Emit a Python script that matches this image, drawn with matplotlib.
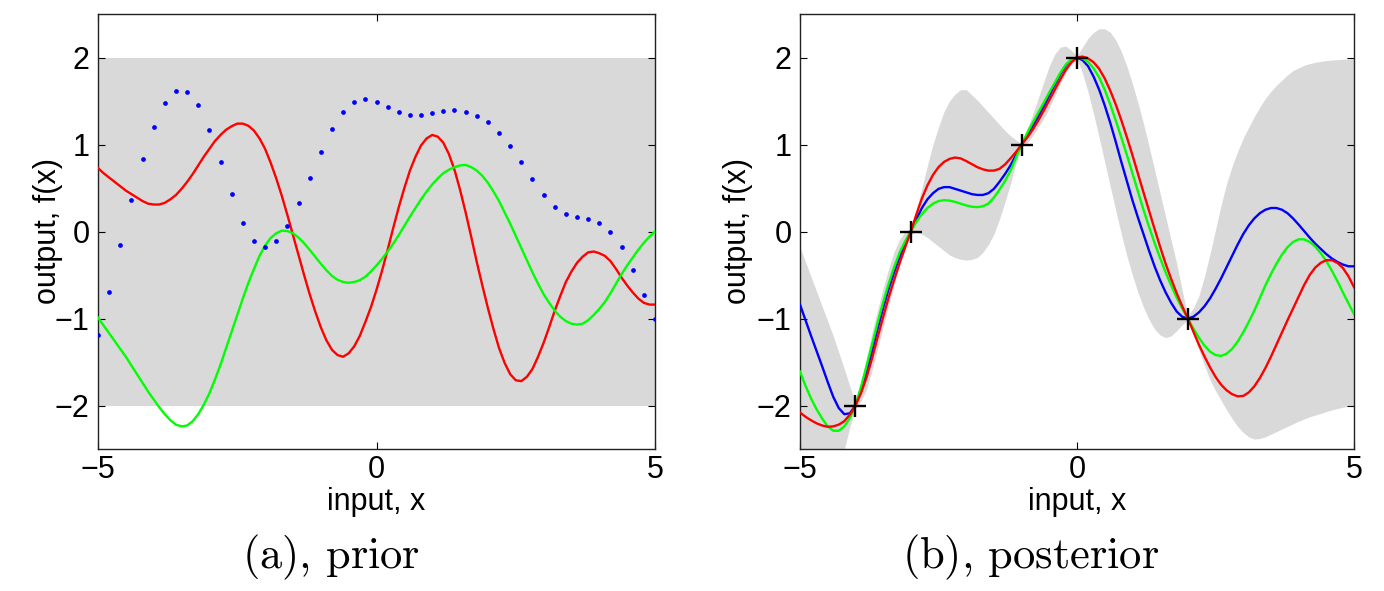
import numpy as np
import matplotlib
matplotlib.use("Agg")
import matplotlib.pyplot as plt

plt.rcParams['font.family'] = ['Liberation Sans', 'DejaVu Sans']
plt.rcParams['mathtext.fontset'] = 'cm'

# ---------------- (a) prior ----------------
x_line = np.round(np.arange(-5.0, 5.0001, 0.1), 1)   # sample grid of the curves
x_dots = np.round(np.arange(-5.0, 5.0001, 0.2), 1)   # grid of the dotted sample

prior_band_x = [-5.0, 5.0]
prior_band_upper = [2.0, 2.0]
prior_band_lower = [-2.0, -2.0]

prior_red = [0.73, 0.67, 0.62, 0.57, 0.52, 0.47, 0.43, 0.39, 0.35, 0.32,
             0.31, 0.31, 0.33, 0.37, 0.42, 0.49, 0.57, 0.66, 0.76, 0.86,
             0.95, 1.04, 1.11, 1.17, 1.21, 1.24, 1.24, 1.215, 1.16, 1.07,
             0.95, 0.79, 0.61, 0.41, 0.19, -0.04, -0.27, -0.50, -0.72, -0.92,
             -1.10, -1.25, -1.36, -1.42, -1.44, -1.40, -1.32, -1.20, -1.04, -0.87,
             -0.67, -0.45, -0.21, 0.04, 0.28, 0.50, 0.70, 0.86, 0.99, 1.07,
             1.11, 1.09, 1.02, 0.89, 0.71, 0.48, 0.22, -0.06, -0.35, -0.62,
             -0.88, -1.12, -1.34, -1.51, -1.64, -1.71, -1.72, -1.67, -1.58, -1.44,
             -1.28, -1.10, -0.91, -0.74, -0.58, -0.46, -0.36, -0.29, -0.24, -0.23,
             -0.25, -0.28, -0.34, -0.43, -0.53, -0.62, -0.70, -0.77, -0.82, -0.84,
             -0.84]

prior_green = [-0.99, -1.08, -1.17, -1.26, -1.35, -1.44, -1.54, -1.64, -1.74, -1.84,
               -1.93, -2.02, -2.10, -2.17, -2.22, -2.24, -2.23, -2.18, -2.10, -1.99,
               -1.86, -1.70, -1.53, -1.34, -1.15, -0.96, -0.77, -0.59, -0.43, -0.28,
               -0.16, -0.075, -0.02, 0.01, 0.005, -0.02, -0.07, -0.135, -0.21, -0.29,
               -0.37, -0.445, -0.51, -0.555, -0.58, -0.59, -0.58, -0.56, -0.52, -0.46,
               -0.39, -0.315, -0.23, -0.14, -0.04, 0.065, 0.17, 0.27, 0.37, 0.46,
               0.54, 0.61, 0.67, 0.71, 0.74, 0.76, 0.765, 0.74, 0.70, 0.64,
               0.56, 0.46, 0.35, 0.22, 0.09, -0.05, -0.19, -0.33, -0.47, -0.60,
               -0.72, -0.82, -0.91, -0.98, -1.03, -1.06, -1.07, -1.06, -1.02, -0.96,
               -0.89, -0.81, -0.71, -0.60, -0.49, -0.39, -0.30, -0.21, -0.13, -0.06,
               0.00]

prior_blue_dots = [-1.19, -0.70, -0.16, 0.365, 0.83, 1.205, 1.475, 1.61, 1.605, 1.45,
                   1.167, 0.80, 0.426, 0.10, -0.106, -0.179, -0.106, 0.068, 0.33, 0.62,
                   0.916, 1.18, 1.376, 1.494, 1.52, 1.49, 1.426, 1.369, 1.342, 1.342,
                   1.365, 1.39, 1.40, 1.376, 1.33, 1.255, 1.137, 0.985, 0.80, 0.605,
                   0.42, 0.285, 0.198, 0.163, 0.141, 0.103, 0.0, -0.18, -0.44, -0.73,
                   -1.01]

# ---------------- (b) posterior ----------------
train_x = [-4, -3, -1, 0, 2]
train_y = [-2, 0, 1, 2, -1]

post_band_upper = [-0.18, -0.35, -0.52, -0.69, -0.86, -1.03, -1.20, -1.39, -1.58, -1.78,
                   -1.97, -1.72, -1.45, -1.16, -0.90, -0.65, -0.43, -0.23, -0.09, 0.00,
                   0.03, 0.25, 0.50, 0.76, 1.00, 1.20, 1.38, 1.50, 1.58, 1.63,
                   1.63, 1.57, 1.51, 1.44, 1.37, 1.30, 1.23, 1.16, 1.10, 1.05,
                   1.01, 1.18, 1.35, 1.53, 1.72, 1.90, 2.04, 2.12, 2.13, 2.08,
                   2.02, 2.12, 2.22, 2.29, 2.33, 2.33, 2.29, 2.20, 2.07, 1.90,
                   1.70, 1.48, 1.24, 0.98, 0.71, 0.44, 0.17, -0.10, -0.37, -0.68,
                   -0.97, -0.88, -0.74, -0.52, -0.26, 0.02, 0.30, 0.55, 0.75, 0.92,
                   1.07, 1.20, 1.32, 1.43, 1.53, 1.61, 1.68, 1.74, 1.80, 1.85,
                   1.88, 1.91, 1.93, 1.945, 1.955, 1.965, 1.97, 1.975, 1.98, 1.983,
                   1.985]

post_band_lower = [-3.80, -3.70, -3.60, -3.50, -3.35, -3.20, -3.00, -2.75, -2.50, -2.25,
                   -2.03, -1.95, -1.82, -1.60, -1.35, -1.10, -0.85, -0.60, -0.38, -0.18,
                   -0.03, -0.01, -0.03, -0.07, -0.12, -0.17, -0.22, -0.27, -0.30, -0.32,
                   -0.33, -0.32, -0.30, -0.24, -0.15, -0.03, 0.14, 0.34, 0.55, 0.78,
                   0.98, 1.02, 1.10, 1.20, 1.30, 1.42, 1.56, 1.70, 1.83, 1.93,
                   1.98, 1.82, 1.60, 1.35, 1.08, 0.80, 0.52, 0.24, -0.03, -0.28,
                   -0.50, -0.70, -0.87, -1.01, -1.12, -1.19, -1.22, -1.20, -1.14, -1.07,
                   -1.02, -1.18, -1.36, -1.54, -1.70, -1.83, -1.94, -2.05, -2.15, -2.24,
                   -2.31, -2.36, -2.385, -2.38, -2.36, -2.33, -2.30, -2.27, -2.24, -2.21,
                   -2.18, -2.155, -2.13, -2.11, -2.09, -2.07, -2.05, -2.035, -2.02, -2.01,
                   -2.00]

post_blue = [-0.84, -1.02, -1.20, -1.375, -1.55, -1.73, -1.90, -2.03, -2.10, -2.09,
             -2.00, -1.835, -1.62, -1.375, -1.12, -0.88, -0.66, -0.465, -0.29, -0.14,
             0.00, 0.14, 0.27, 0.37, 0.44, 0.49, 0.51, 0.51, 0.49, 0.47,
             0.45, 0.43, 0.42, 0.42, 0.44, 0.49, 0.57, 0.66, 0.76, 0.88,
             1.00, 1.105, 1.21, 1.32, 1.44, 1.565, 1.69, 1.81, 1.91, 1.975,
             2.00, 1.97, 1.90, 1.78, 1.63, 1.45, 1.25, 1.03, 0.80, 0.58,
             0.36, 0.16, -0.03, -0.22, -0.40, -0.56, -0.70, -0.82, -0.92, -0.98,
             -1.00, -0.98, -0.93, -0.86, -0.77, -0.66, -0.54, -0.41, -0.28, -0.15,
             -0.03, 0.07, 0.15, 0.21, 0.25, 0.27, 0.27, 0.25, 0.21, 0.15,
             0.08, 0.005, -0.07, -0.14, -0.20, -0.26, -0.31, -0.35, -0.38, -0.40,
             -0.40]

post_green = [-1.61, -1.775, -1.92, -2.045, -2.15, -2.24, -2.29, -2.29, -2.24, -2.145,
              -2.00, -1.79, -1.55, -1.30, -1.05, -0.815, -0.60, -0.41, -0.24, -0.11,
              0.00, 0.11, 0.20, 0.27, 0.32, 0.35, 0.36, 0.355, 0.34, 0.32,
              0.30, 0.285, 0.28, 0.29, 0.32, 0.39, 0.48, 0.58, 0.70, 0.85,
              1.00, 1.13, 1.25, 1.365, 1.48, 1.60, 1.71, 1.825, 1.92, 1.975,
              2.00, 1.99, 1.95, 1.875, 1.77, 1.63, 1.46, 1.275, 1.08, 0.88,
              0.67, 0.46, 0.25, 0.055, -0.13, -0.305, -0.47, -0.62, -0.76, -0.885,
              -1.00, -1.115, -1.22, -1.31, -1.38, -1.42, -1.43, -1.405, -1.35, -1.265,
              -1.16, -1.04, -0.91, -0.765, -0.62, -0.49, -0.37, -0.265, -0.18, -0.12,
              -0.09, -0.09, -0.12, -0.175, -0.25, -0.34, -0.45, -0.57, -0.70, -0.825,
              -0.95]

post_red = [-2.08, -2.13, -2.17, -2.205, -2.23, -2.245, -2.24, -2.22, -2.18, -2.105,
            -2.00, -1.86, -1.68, -1.46, -1.22, -0.985, -0.76, -0.555, -0.36, -0.18,
            0.00, 0.195, 0.38, 0.53, 0.65, 0.74, 0.80, 0.835, 0.85, 0.84,
            0.81, 0.775, 0.74, 0.715, 0.70, 0.70, 0.72, 0.77, 0.84, 0.915,
            1.00, 1.08, 1.17, 1.275, 1.39, 1.51, 1.63, 1.75, 1.86, 1.945,
            2.00, 2.01, 1.99, 1.945, 1.87, 1.76, 1.62, 1.46, 1.28, 1.085,
            0.88, 0.665, 0.45, 0.24, 0.03, -0.175, -0.37, -0.545, -0.71, -0.86,
            -1.00, -1.15, -1.30, -1.435, -1.56, -1.67, -1.76, -1.825, -1.87, -1.895,
            -1.89, -1.85, -1.78, -1.685, -1.57, -1.44, -1.30, -1.16, -1.02, -0.885,
            -0.75, -0.615, -0.50, -0.415, -0.36, -0.33, -0.33, -0.36, -0.42, -0.515,
            -0.64]

x_ticks = [-5, 0, 5]
y_ticks = [-2, -1, 0, 1, 2]
x_label = "input, x"
y_label = "output, f(x)"
captions = [r"$\mathrm{(a),\,prior}$", r"$\mathrm{(b),\,posterior}$"]

BAND = "#d9d9d9"
RED = "#ff0000"
GREEN = "#00ff00"
BLUE = "#0000ff"

W, H = 1384, 591
fig = plt.figure(figsize=(W / 100, H / 100), dpi=100)
ax1 = fig.add_axes([98 / W, (H - 449) / H, 557 / W, 435 / H])
ax2 = fig.add_axes([800 / W, (H - 449) / H, 554 / W, 435 / H])

ax1.fill_between(prior_band_x, prior_band_lower, prior_band_upper, color=BAND, lw=0, zorder=1)
ax1.plot(x_line, prior_red, color=RED, lw=1.7, zorder=3)
ax1.plot(x_line, prior_green, color=GREEN, lw=1.7, zorder=3)
ax1.plot(x_dots, prior_blue_dots, linestyle='none', marker='o', ms=3.4,
         color=BLUE, mec='none', zorder=4)

ax2.fill_between(x_line, post_band_lower, post_band_upper, color=BAND, lw=0, zorder=1)
ax2.plot(x_line, post_blue, color=BLUE, lw=1.7, zorder=3)
ax2.plot(x_line, post_green, color=GREEN, lw=1.7, zorder=3)
ax2.plot(x_line, post_red, color=RED, lw=1.7, zorder=3)
ax2.plot(train_x, train_y, linestyle='none', marker='+', ms=16, mew=1.7,
         color='black', zorder=5)

for ax, cap, cx, ylx in [(ax1, captions[0], 331 / W, -0.062),
                         (ax2, captions[1], 1031 / W, -0.085)]:
    ax.set_xlim(-5, 5)
    ax.set_ylim(-2.5, 2.5)
    ax.set_xticks(x_ticks)
    ax.set_yticks(y_ticks)
    ax.tick_params(direction='in', top=True, right=True, length=5, width=0.8,
                   labelsize=22, pad=6, colors='black')
    ax.tick_params(axis='x', pad=4)
    for s in ax.spines.values():
        s.set_linewidth(1.0)
        s.set_color('#222222')
    ax.set_xlabel(x_label, fontsize=22)
    ax.xaxis.set_label_coords(0.5, -0.088)
    ax.set_ylabel(y_label, fontsize=22)
    ax.yaxis.set_label_coords(ylx, 0.5)
    fig.text(cx, 0.0565, cap, fontsize=32, ha='center', va='center')

fig.savefig("out.png", dpi=100)
